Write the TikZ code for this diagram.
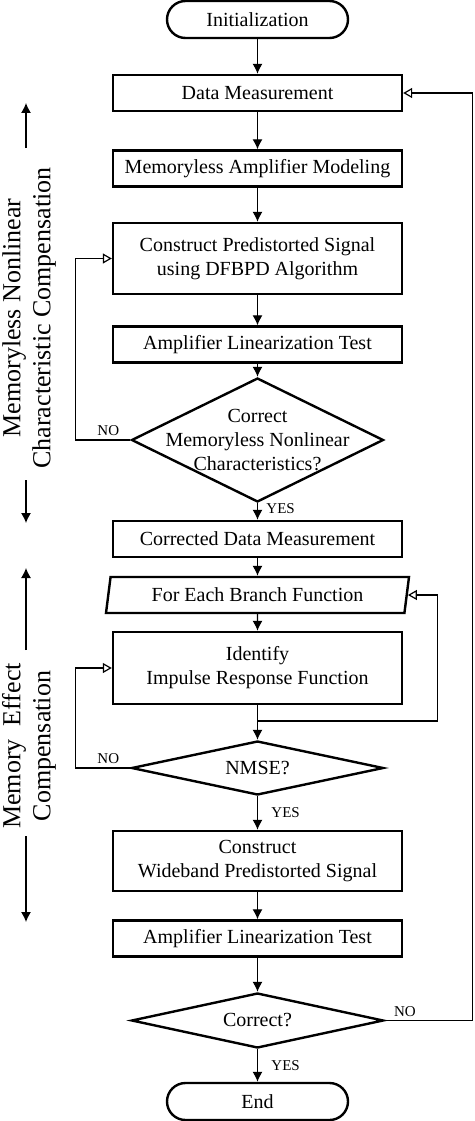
\documentclass[tikz,border=0pt]{standalone}
\usepackage{fontspec}
\setmainfont{Liberation Serif}
\usetikzlibrary{positioning,shapes.geometric,arrows.meta}

\begin{document}
\begin{tikzpicture}[node distance=75pt,on grid,auto,
    every node/.style={font=\fontsize{20}{24}\selectfont},
    line width=1.2pt,
    >={Latex[length=10pt,width=10pt]},
    terminal/.style={draw,line width=2.4pt,rounded corners=18.5pt,minimum width=181pt,minimum height=37pt,inner sep=0pt},
    process/.style={draw,line width=2.4pt,minimum width=289pt,minimum height=36pt,align=center,inner sep=0pt},
    io/.style={draw,line width=2.4pt,trapezium,trapezium left angle=72,trapezium right angle=108,trapezium stretches body,minimum width=303pt,minimum height=36pt,inner sep=0pt},
    decision/.style={draw,line width=2.4pt,diamond,aspect=4.6,minimum width=252pt,inner sep=0pt},
    yesno/.style={font=\fontsize{15}{18}\selectfont},
    loopback/.style={-{Triangle[open,length=9pt,width=10pt]}},
    sidetext/.style={font=\fontsize{26}{30}\selectfont,rotate=90,align=center}] 
    \useasboundingbox (0,0) rectangle (474pt,-1121pt);
    % main flow
    \node[terminal] (n_init) at (257.5pt,-19.5pt) {Initialization};
    \node[process] (n_data) [below=73.5pt of n_init] {Data Measurement};
    \node[process] (n_model) [below=75.5pt of n_data] {Memoryless Amplifier Modeling};
    \node[process,minimum height=71pt] (n_cps) [below=90pt of n_model] {Construct Predistorted Signal\\using DFBPD Algorithm};
    \node[process] (n_test1) [below=86pt of n_cps] {Amplifier Linearization Test};
    \node[decision,minimum height=124pt,
          label={[align=center]center:Correct\\Memoryless Nonlinear\\Characteristics?}] (n_chk1) [below=95.5pt of n_test1] {};
    \node[process] (n_corr) [below=99pt of n_chk1] {Corrected Data Measurement};
    \node[io] (n_branch) [below=56pt of n_corr] {For Each Branch Function};
    \node[process,minimum height=72pt] (n_ident) [below=73pt of n_branch] {Identify\\Impulse Response Function};
    \coordinate[below=53pt of n_ident] (j_ident);
    \node[decision,minimum height=54pt] (n_nmse) [below=100pt of n_ident] {NMSE?};
    \node[process,minimum height=60pt] (n_wide) [below=93pt of n_nmse] {Construct\\Wideband Predistorted Signal};
    \node[process] (n_test2) [below=77.5pt of n_wide] {Amplifier Linearization Test};
    \node[decision,minimum height=55pt] (n_chk2) [below=82pt of n_test2] {Correct?};
    \node[terminal] (n_end) [below=81pt of n_chk2] {End};
    \path[->]
    (n_init) edge (n_data)
    (n_data) edge (n_model)
    (n_model) edge (n_cps)
    (n_cps) edge (n_test1)
    (n_test1) edge (n_chk1)
    (n_chk1) edge node[yesno,pos=0.32,right,xshift=5pt] {YES} (n_corr)
    (n_corr) edge (n_branch)
    (n_branch) edge (n_ident)
    (n_ident) edge (n_nmse)
    (n_nmse) edge node[yesno,right,xshift=10pt] {YES} (n_wide)
    (n_wide) edge (n_test2)
    (n_test2) edge (n_chk2)
    (n_chk2) edge node[yesno,right,xshift=10pt] {YES} (n_end)
    ; %end path
    % feedback loops
    \draw[loopback] (n_chk1.west) -- node[yesno,above,pos=0.4] {NO} ++(-55pt,0) |- (n_cps.west);
    \draw[loopback] (n_nmse.west) -- node[yesno,above,pos=0.4] {NO} ++(-55pt,0) |- (n_ident.west);
    \draw[loopback] (j_ident) -- ++(180pt,0) |- (n_branch.east);
    \draw[loopback] (n_chk2.east) -- node[yesno,above,pos=0.23] {NO} ++(88pt,0) |- (n_data.east);
    % side labels
    \node[sidetext] (t_memless) at (29pt,-318pt) {Memoryless Nonlinear\\Characteristic Compensation};
    \node[sidetext] (t_memeff) at (29pt,-746pt) {Memory\ \ Effect\\Compensation};
    \coordinate (s_a1) at (26pt,-148pt);
    \coordinate (s_a2) at (26pt,-103pt);
    \coordinate (s_b1) at (26pt,-480pt);
    \coordinate (s_b2) at (26pt,-523pt);
    \coordinate (s_c1) at (26pt,-650pt);
    \coordinate (s_c2) at (26pt,-568pt);
    \coordinate (s_d1) at (26pt,-836pt);
    \coordinate (s_d2) at (26pt,-922pt);
    \draw[->] (s_a1) -- (s_a2);
    \draw[->] (s_b1) -- (s_b2);
    \draw[->] (s_c1) -- (s_c2);
    \draw[->] (s_d1) -- (s_d2);
  \end{tikzpicture}
\end{document}
